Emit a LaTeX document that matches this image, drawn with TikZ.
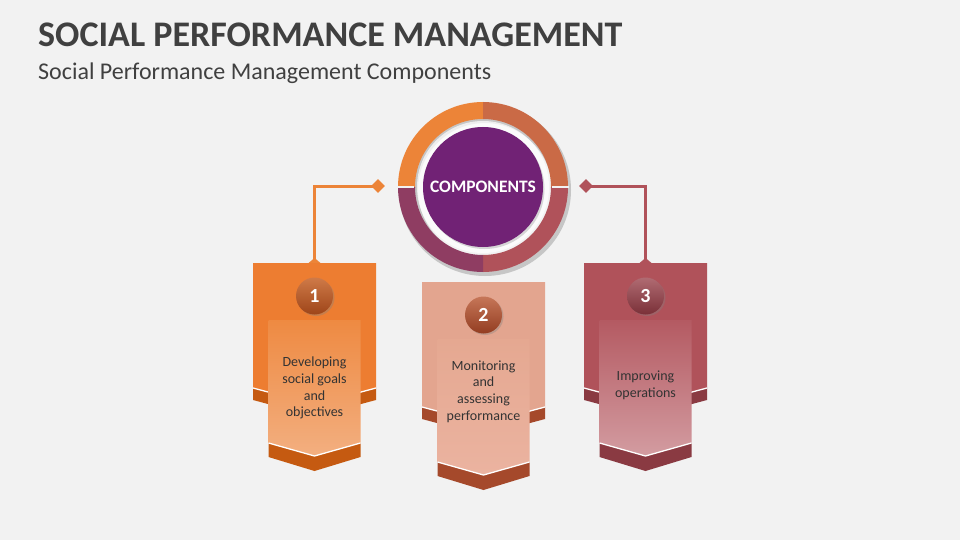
\documentclass[tikz,border=0pt]{standalone}
\usepackage{fontspec}
\setmainfont{Carlito}
\usetikzlibrary{shapes.geometric,shadows,calc}
\definecolor{bg}{HTML}{F2F2F2}
\definecolor{titlec}{HTML}{404040}
\definecolor{txt}{HTML}{333333}
\definecolor{ringA}{HTML}{EC8438}
\definecolor{ringB}{HTML}{CA6A46}
\definecolor{ringC}{HTML}{B0525A}
\definecolor{ringD}{HTML}{8F3D62}
\definecolor{purp}{HTML}{712275}
% box 1
\definecolor{oa}{HTML}{ED7D31}\definecolor{ba}{HTML}{C55A11}
\definecolor{ita}{HTML}{EE8A42}\definecolor{ima}{HTML}{F8C8A4}\definecolor{iba}{HTML}{F3AF80}
\definecolor{cda}{HTML}{9E4519}\definecolor{cla}{HTML}{CF7A48}
% box 2
\definecolor{ob}{HTML}{E3A58F}\definecolor{bb}{HTML}{A5492B}
\definecolor{itb}{HTML}{E5A891}\definecolor{imb}{HTML}{EEC1B1}\definecolor{ibb}{HTML}{EBB3A0}
\definecolor{cdb}{HTML}{933D21}\definecolor{clb}{HTML}{C67658}
% box 3
\definecolor{oc}{HTML}{B0525A}\definecolor{bc}{HTML}{8A3A42}
\definecolor{itc}{HTML}{B45A62}\definecolor{imc}{HTML}{CD8C92}\definecolor{ibc}{HTML}{D39CA1}
\definecolor{cdc}{HTML}{7A3038}\definecolor{clc}{HTML}{B06B72}
\tikzset{
  conn/.style={line width=3pt},
  dia/.style={diamond, minimum size=14pt, inner sep=0pt},
  numball/.style={circle, minimum size=37pt, inner sep=0pt, text=white,
    font=\bfseries\fontsize{20}{22}\selectfont, shading angle=-45,
    drop shadow={shadow xshift=1.5pt, shadow yshift=-1.5pt, opacity=0.35}},
  cardtext/.style={align=center, text=txt, inner sep=0pt,
    font=\fontsize{14}{16.7}\selectfont},
  hl/.style={white, line width=1.3pt}
}
\begin{document}
\begin{tikzpicture}[x=1pt,y=-1pt]
\fill[bg] (0,0) rectangle (960,540);
\useasboundingbox (0,0) rectangle (960,540);

% titles
\node[anchor=base west, inner sep=0pt, text=titlec,
  font=\bfseries\fontsize{36}{40}\selectfont] (title) at (38,47) {SOCIAL PERFORMANCE MANAGEMENT};
\node[anchor=base west, inner sep=0pt, text=titlec,
  font=\fontsize{24}{27}\selectfont] (subtitle) at (38,80) {Social Performance Management Components};

% ring
\coordinate (c) at (483,187);
\fill[black, opacity=0.18, even odd rule] (485,190) circle (86) (485,190) circle (67);
\begin{scope}
  \clip (390,90) rectangle (483,187);
  \fill[ringA, even odd rule] (c) circle (85) (c) circle (68);
\end{scope}
\begin{scope}
  \clip (483,90) rectangle (580,187);
  \fill[ringB, even odd rule] (c) circle (85) (c) circle (68);
\end{scope}
\begin{scope}
  \clip (483,187) rectangle (580,280);
  \fill[ringC, even odd rule] (c) circle (85) (c) circle (68);
\end{scope}
\begin{scope}
  \clip (390,187) rectangle (483,280);
  \fill[ringD, even odd rule] (c) circle (85) (c) circle (68);
\end{scope}
\draw[bg, line width=1.2pt] (397,187) -- (414,187) (552,187) -- (569,187);
\fill[white, opacity=0.7] (c) circle (66);
\node[circle, fill=purp, minimum size=120pt, inner sep=0pt, text=white,
  font=\bfseries\fontsize{17.5}{20}\selectfont,
  drop shadow={shadow xshift=1.5pt, shadow yshift=-2pt, opacity=0.3}] (comp) at (c) {COMPONENTS};

% cards
\foreach \X/\Y/\o/\b/\it/\im/\ib/\cd/\cl/\n/\ty/\lab in {
  253/263/oa/ba/ita/ima/iba/cda/cla/1/388/{Developing\\social goals\\and\\objectives},
  422/282/ob/bb/itb/imb/ibb/cdb/clb/2/391.5/{Monitoring\\and\\assessing\\performance},
  584/263/oc/bc/itc/imc/ibc/cdc/clc/3/385/{Improving\\operations}} {
  % outer band + face
  \fill[\b] (\X,\Y+125) -- (\X+61.5,\Y+141.5) -- (\X+123,\Y+125) -- (\X+123,\Y+137)
     -- (\X+61.5,\Y+153.5) -- (\X,\Y+137) -- cycle;
  \fill[\o] (\X,\Y) -- (\X+123,\Y) -- (\X+123,\Y+125) -- (\X+61.5,\Y+141.5) -- (\X,\Y+125) -- cycle;
  \draw[hl] (\X,\Y+125) -- (\X+61.5,\Y+141.5) -- (\X+123,\Y+125);
  % inner band + face
  \fill[\b] (\X+15.5,\Y+180) -- (\X+61.5,\Y+193) -- (\X+107.5,\Y+180) -- (\X+107.5,\Y+194)
     -- (\X+61.5,\Y+208) -- (\X+15.5,\Y+194) -- cycle;
  \shade[top color=\it, middle color=\im, bottom color=\ib]
     (\X+15.5,\Y+57) -- (\X+107.5,\Y+57) -- (\X+107.5,\Y+180) -- (\X+61.5,\Y+193) -- (\X+15.5,\Y+180) -- cycle;
  \draw[hl] (\X+15.5,\Y+180) -- (\X+61.5,\Y+193) -- (\X+107.5,\Y+180);
  \coordinate (top\n) at (\X+61.5,\Y);
  \node[numball, top color=\cl, bottom color=\cd] (num\n) at (\X+61.5,\Y+33) {\n};
  \node[cardtext] (text\n) at (\X+61.5,\ty) {\lab};
}

% connectors
\node[dia, fill=ringA] (dl) at (378,186) {};
\node[dia, fill=ringC] (dr) at (586,186) {};
\draw[conn, ringA] (dl.center) -| (top1);
\draw[conn, ringC] (dr.center) -| (top3);
\fill[ringA] ($(top1)+(-6,0)$) -- ($(top1)+(0,-5)$) -- ($(top1)+(6,0)$) -- cycle;
\fill[ringC] ($(top3)+(-6,0)$) -- ($(top3)+(0,-5)$) -- ($(top3)+(6,0)$) -- cycle;
\end{tikzpicture}
\end{document}
